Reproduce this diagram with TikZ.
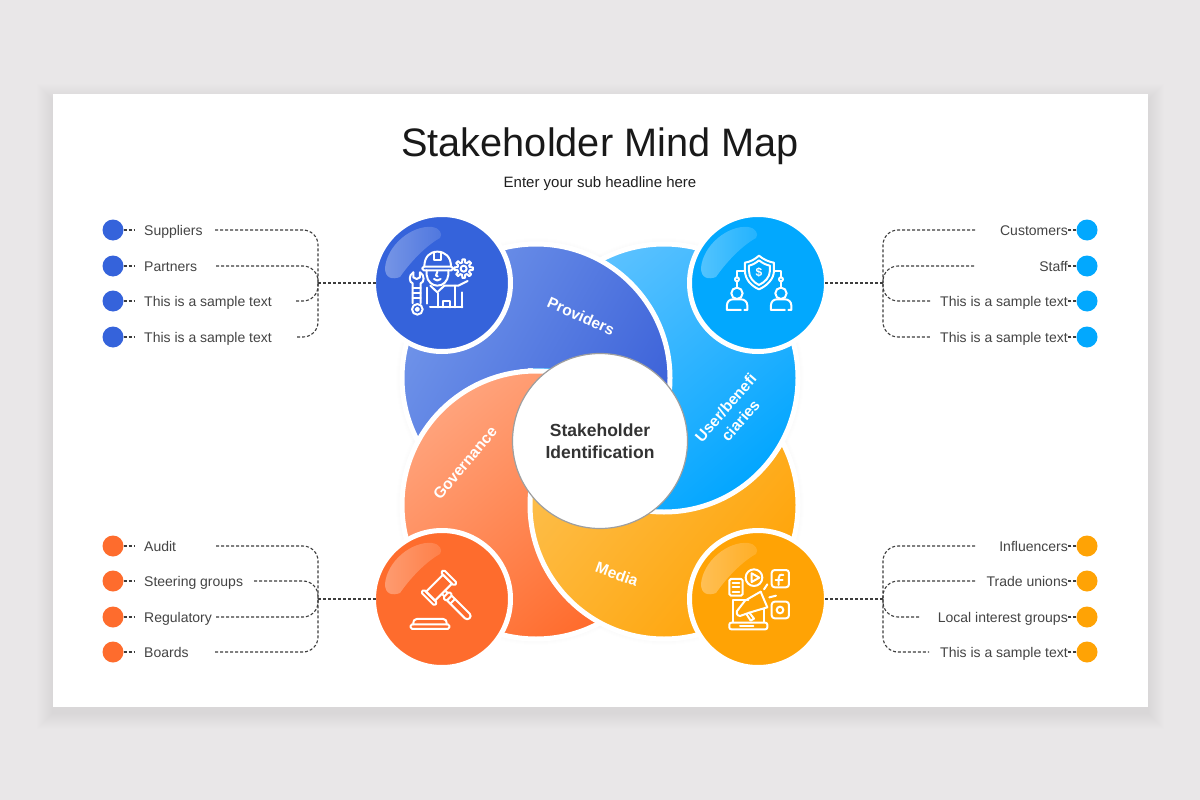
\documentclass[tikz,border=0pt]{standalone}
\usepackage{fontspec}
\setmainfont{Liberation Sans}
\usepackage{tikz}
\usetikzlibrary{positioning,shapes,fadings}

\definecolor{pagegray}{HTML}{E9E7E8}
\definecolor{cblue}{HTML}{3563DB}
\definecolor{csky}{HTML}{02A8FE}
\definecolor{corange}{HTML}{FE6C2D}
\definecolor{cyellow}{HTML}{FFA305}
\definecolor{ctext}{HTML}{444444}
\definecolor{blueA}{HTML}{6F93E9}
\definecolor{blueB}{HTML}{3A60D8}
\definecolor{skyA}{HTML}{5DC2FF}
\definecolor{skyB}{HTML}{02A6FF}
\definecolor{orangeA}{HTML}{FFA37C}
\definecolor{orangeB}{HTML}{FF6A2A}
\definecolor{yellowA}{HTML}{FDC050}
\definecolor{yellowB}{HTML}{FFA408}

\tikzset{
    petalblue/.style={top color=blueA,bottom color=blueB,shading angle=60,draw=white,line width=5pt},
    petalsky/.style={top color=skyA,bottom color=skyB,shading angle=40,draw=white,line width=5pt},
    petalorange/.style={top color=orangeA,bottom color=orangeB,shading angle=40,draw=white,line width=5pt},
    petalyellow/.style={top color=yellowA,bottom color=yellowB,shading angle=50,draw=white,line width=5pt},
    iconcirc/.style={circle,draw=white,line width=5pt,minimum size=137pt,inner sep=0pt},
    dotbox/.style={circle,minimum size=21pt,inner sep=0pt},
    listtext/.style={text=ctext,inner sep=0pt,font=\fontsize{14}{14}\selectfont},
    petaltext/.style={text=white,align=center,inner sep=0pt,font=\fontsize{15.5}{19.5}\selectfont\bfseries},
    dashlink/.style={draw=ctext!90!black,line width=1.1pt,dash pattern=on 3pt off 2pt},
    iconline/.style={draw=white,line width=2pt,line cap=round,line join=round},
    glossbase/.style={fill=white,fill opacity=.13},
    gloss/.style={fill=white,fill opacity=.22,path fading=east}
}

\begin{document}
\begin{tikzpicture}[x=1pt,y=-1pt]
    \useasboundingbox (0,0) rectangle (1200,800);
    \fill[pagegray] (0,0) rectangle (1200,800);
    % card
    \foreach \s in {1,...,16}
        \fill[black,opacity=.005] (53-\s,94-\s+6) rectangle (1148+\s,707+\s+6);
    \fill[white] (53,94) rectangle (1148,707);

    % title
    \node[inner sep=0pt,text=black!90,anchor=base] (title) at (600,156) {\fontsize{39.7}{40}\selectfont Stakeholder Mind Map};
    \node[inner sep=0pt,text=black!88,anchor=base] (subtitle) at (600,187) {\fontsize{15}{15}\selectfont Enter your sub headline here};

    % soft edge of the circles
    \foreach \s in {1,...,7} {
        \fill[black,opacity=.005] (536,378) circle (133+\s);
        \fill[black,opacity=.005] (664,378) circle (133+\s);
        \fill[black,opacity=.005] (536,505) circle (133+\s);
        \fill[black,opacity=.005] (664,505) circle (133+\s);
    }

    % petals
    \shadedraw[petalblue] (536,378) circle (134);
    \shadedraw[petalorange] (536,505) circle (134);
    \shadedraw[petalyellow] (664,505) circle (134);
    \shadedraw[petalsky] (664,378) circle (134);
    \begin{scope}
        \clip (520,360) rectangle (570,420);
        \shadedraw[petalorange] (536,505) circle (134);
    \end{scope}
    \begin{scope}
        \clip (520,200) -- (700,200) -- (700,441) -- (600,441) -- (600,368) -- (520,368) -- cycle;
        \shadedraw[petalblue] (536,378) circle (134);
    \end{scope}
    \node[petaltext,rotate=-24] (providers) at (581,316) {Providers};
    \node[petaltext,rotate=49] (users) at (733,414) {User/benefi\\ciaries};
    \node[petaltext,rotate=-20] (media) at (617,574) {Media};
    \node[petaltext,rotate=50] (governance) at (465,463) {Governance};

    % centre
    \node[circle,fill=white,draw=black!38,line width=1.2pt,minimum size=175pt,inner sep=0pt,align=center,
        text=black!80,font=\fontsize{17.5}{22}\selectfont\bfseries] (centre) at (600,441) {Stakeholder\\Identification};

    % icon circles
    \node[iconcirc,fill=cblue] (provider) at (442,283) {};
    \node[iconcirc,fill=csky] (user) at (758,283) {};
    \node[iconcirc,fill=corange] (govern) at (442,599) {};
    \node[iconcirc,fill=cyellow] (mediac) at (758,599) {};
    \foreach \cx/\cy in {442/283,758/283,442/599,758/599} {
        \path[glossbase,shift={(\cx,\cy)}] (-57,-15) .. controls (-55,-38) and (-30,-58) .. (-10,-56)
            .. controls (-2,-55) and (1,-49) .. (-2,-45) .. controls (-15,-38) and (-31,-22) .. (-42,-6)
            .. controls (-50,-3) and (-57,-5) .. (-57,-15);
        \path[gloss,shift={(\cx,\cy)}] (-57,-15) .. controls (-55,-38) and (-30,-58) .. (-10,-56)
            .. controls (-2,-55) and (1,-49) .. (-2,-45) .. controls (-15,-38) and (-31,-22) .. (-42,-6)
            .. controls (-50,-3) and (-57,-5) .. (-57,-15);
    }

    % row 1
    \coordinate (ltr) at (318,283);
    \foreach \i/\yy/\txt/\xa in {1/230/Suppliers/215,2/266/Partners/216,3/301/This is a sample text/296,4/337/This is a sample text/296} {
        \node[dotbox,fill=cblue] (adot\i) at (113,\yy) {};
        \node[listtext,anchor=base west] (atxt\i) at (144,\yy+5) {\txt};
        \coordinate (aend\i) at (134,\yy);
        \coordinate (abr\i) at (\xa,\yy);
        \draw[dashlink] (adot\i) -- (aend\i);
    }
    \draw[dashlink,rounded corners=15pt] (abr1) -| (ltr) |- (abr4);
    \draw[dashlink,rounded corners=15pt] (abr2) -| (ltr);
    \draw[dashlink,rounded corners=15pt] (abr3) -| (ltr);
    \draw[dashlink,shorten >=-5pt] (ltr) -- (provider);

    \coordinate (rtr) at (883,283);
    \foreach \i/\yy/\txt/\xa in {1/230/Customers/975,2/266/Staff/974,3/301/This is a sample text/930,4/337/This is a sample text/930} {
        \node[dotbox,fill=csky] (bdot\i) at (1087,\yy) {};
        \node[listtext,anchor=base east] (btxt\i) at (1068,\yy+5) {\txt};
        \coordinate (bend\i) at (1068,\yy);
        \coordinate (bbr\i) at (\xa,\yy);
        \draw[dashlink] (bdot\i) -- (bend\i);
    }
    \draw[dashlink,rounded corners=15pt] (bbr1) -| (rtr) |- (bbr4);
    \draw[dashlink,rounded corners=15pt] (bbr2) -| (rtr);
    \draw[dashlink,rounded corners=15pt] (bbr3) -| (rtr);
    \draw[dashlink,shorten >=-5pt] (rtr) -- (user);

    % row 2
    \coordinate (lbtr) at (318,599);
    \foreach \i/\yy/\txt/\xa in {1/546/Audit/216,2/581/Steering groups/254,3/617/Regulatory/216,4/652/Boards/215} {
        \node[dotbox,fill=corange] (cdot\i) at (113,\yy) {};
        \node[listtext,anchor=base west] (ctxt\i) at (144,\yy+5) {\txt};
        \coordinate (cend\i) at (134,\yy);
        \coordinate (cbr\i) at (\xa,\yy);
        \draw[dashlink] (cdot\i) -- (cend\i);
    }
    \draw[dashlink,rounded corners=15pt] (cbr1) -| (lbtr) |- (cbr4);
    \draw[dashlink,rounded corners=15pt] (cbr2) -| (lbtr);
    \draw[dashlink,rounded corners=15pt] (cbr3) -| (lbtr);
    \draw[dashlink,shorten >=-5pt] (lbtr) -- (govern);

    \coordinate (rbtr) at (883,599);
    \foreach \i/\yy/\txt/\xa in {1/546/Influencers/975,2/581/Trade unions/975,3/617/Local interest groups/919,4/652/This is a sample text/929} {
        \node[dotbox,fill=cyellow] (ddot\i) at (1087,\yy) {};
        \node[listtext,anchor=base east] (dtxt\i) at (1068,\yy+5) {\txt};
        \coordinate (dend\i) at (1068,\yy);
        \coordinate (dbr\i) at (\xa,\yy);
        \draw[dashlink] (ddot\i) -- (dend\i);
    }
    \draw[dashlink,rounded corners=15pt] (dbr1) -| (rbtr) |- (dbr4);
    \draw[dashlink,rounded corners=15pt] (dbr2) -| (rbtr);
    \draw[dashlink,rounded corners=15pt] (dbr3) -| (rbtr);
    \draw[dashlink,shorten >=-5pt] (rbtr) -- (mediac);

    % worker icon
    \begin{scope}[shift={(375,215)},x=.3333pt,y=-.3333pt,iconline]
        \draw (148,155) .. controls (148,125) and (165,110) .. (187,110) .. controls (210,110) and (228,125) .. (228,155);
        \draw[rounded corners=1.5pt] (142,155) rectangle (234,166);
        \draw (177,113) -- (177,135) -- (197,135) -- (197,113);
        \draw (155,166) -- (155,180) .. controls (157,200) and (172,212) .. (187,212) .. controls (205,212) and (218,198) .. (220,180) -- (220,166);
        \draw (177,192) .. controls (182,198) and (192,198) .. (197,192);
        \draw (187,170) -- (183,182) -- (188,184);
        \draw (166,212) -- (187,232) -- (208,212);
        \draw (155,218) -- (155,266);
        \draw (190,235) -- (190,277);
        \draw (208,212) -- (250,212) -- (278,198);
        \draw (240,212) -- (240,277);
        \draw (262,232) -- (262,277);
        \draw (165,277) -- (262,277);
        \draw (205,277) |- (225,258) -- (225,277);
        \draw (115,172) .. controls (100,180) and (102,203) .. (113,205) -- (113,265);
        \draw (135,172) .. controls (150,180) and (148,203) .. (137,205) -- (137,265);
        \draw (115,172) -- (115,187) -- (125,192) -- (135,187) -- (135,172);
        \foreach \yy in {220,235,250}
            \draw (113,\yy) -- (137,\yy);
        \draw (127,283) circle (16);
        \draw (127,283) circle (5);
        \begin{scope}[shift={(266,161)}]
            \draw (0,0) circle (9);
            \foreach \a in {0,45,...,315}
                \draw (\a-14:19) -- (\a-8:28) -- (\a+8:28) -- (\a+14:19) -- (\a+31:19);
        \end{scope}
    \end{scope}

    % shield icon
    \begin{scope}[shift={(370,200)},x=.3333pt,y=-.3333pt,iconline]
        \draw (1167,167) .. controls (1180,178) and (1197,186) .. (1212,188) -- (1212,212) .. controls (1212,238) and (1190,258) .. (1167,268)
            .. controls (1144,258) and (1125,238) .. (1125,212) -- (1125,188) .. controls (1140,186) and (1155,178) .. (1167,167);
        \draw (1167,181) .. controls (1178,190) and (1190,195) .. (1200,197) -- (1200,212) .. controls (1200,232) and (1184,247) .. (1167,255)
            .. controls (1150,247) and (1137,232) .. (1137,212) -- (1137,197) .. controls (1146,195) and (1157,190) .. (1167,181);
        \node[text=white,inner sep=0pt,font=\fontsize{12}{12}\selectfont\bfseries] (dollar) at (1167,216) {\$};
        \foreach \m/\s in {1101/1125,1233/1212} {
            \draw (\s,212) -| (\m,232);
            \draw (\m,238) circle (6);
            \draw (\m,244) -- (\m,262);
            \draw (\m,280) circle (17);
            \draw (\m+12,330) -- (\m-30,330) -- (\m-30,316) .. controls (\m-30,305) and (\m-22,298) .. (\m-12,298) -- (\m+12,298)
                .. controls (\m+22,298) and (\m+31,305) .. (\m+31,316) -- (\m+31,330) -- (\m+22,330);
        }
    \end{scope}

    % gavel icon
    \begin{scope}[shift={(370,430)},x=.3333pt,y=-.3333pt,iconline]
        \draw[rounded corners=1.5pt] (122,583) rectangle (238,597);
        \draw (130,583) .. controls (130,572) and (133,567) .. (140,567) -- (220,567) .. controls (227,567) and (230,572) .. (230,583);
        \begin{scope}[shift={(207,473)},rotate=45]
            \draw (-36,-19) rectangle (36,19);
            \draw[rounded corners=1.5pt] (-48,-28) rectangle (-36,28);
            \draw[rounded corners=1.5pt] (36,-28) rectangle (48,28);
            \draw (-7,19) -- (-7,30);
            \draw (7,19) -- (7,30);
            \draw[rounded corners=1.5pt] (-13,30) rectangle (13,44);
            \draw (-10,44) -- (-10,120) .. controls (-10,133) and (10,133) .. (10,120) -- (10,44);
            \draw (-10,58) -- (10,58);
        \end{scope}
    \end{scope}

    % media icon
    \begin{scope}[shift={(690,530)},x=.3333pt,y=-.3333pt,iconline]
        \draw[rounded corners=1.5pt] (118,147) rectangle (158,197);
        \foreach \yy in {160,172,185}
            \draw (128,\yy) -- (148,\yy);
        \draw (192,143) circle (25);
        \draw (185,130) -- (208,143) -- (185,156) -- cycle;
        \draw[rounded corners=3pt] (245,120) rectangle (297,172);
        \draw (280,135) .. controls (270,132) and (266,137) .. (266,145) -- (266,165);
        \draw (257,150) -- (278,150);
        \draw[rounded corners=3pt] (245,215) rectangle (297,265);
        \draw (270,240) circle (10);
        \draw (175,210) -- (130,210) -- (130,275);
        \draw (215,236) -- (222,236) -- (222,275);
        \draw[rounded corners=2pt] (118,278) rectangle (232,298);
        \draw (150,288) -- (190,288);
        \draw (212,185) -- (232,232) -- (178,248) -- (150,258);
        \draw (212,185) -- (165,212) -- (145,238);
        \draw (150,258) .. controls (140,258) and (136,245) .. (145,238);
        \draw (178,248) -- (192,266) -- (182,272) -- (170,253);
        \draw (222,178) -- (232,163);
        \draw (238,202) -- (258,197);
    \end{scope}
\end{tikzpicture}
\end{document}
